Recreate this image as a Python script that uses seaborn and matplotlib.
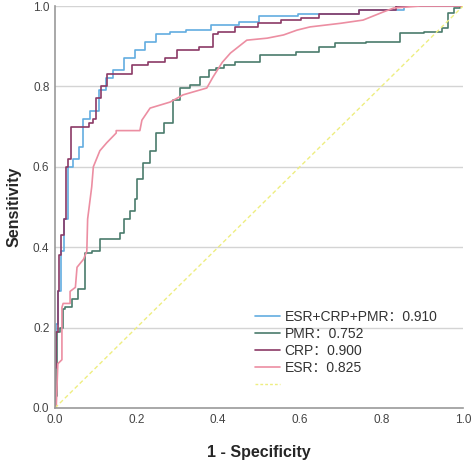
import pandas as pd
import seaborn as sns
import matplotlib.pyplot as plt
from matplotlib.lines import Line2D

# ROC curves (1 - specificity, sensitivity)
combo_fpr = [0.0, 0.0, 0.003, 0.012, 0.017, 0.025, 0.037, 0.05, 0.066, 0.07, 0.1, 0.118, 0.13, 0.155, 0.184, 0.21, 0.233, 0.262, 0.3, 0.343, 0.42, 0.48, 0.52, 0.67, 0.82, 0.89, 1.0]
combo_tpr = [0.0, 0.17, 0.21, 0.29, 0.39, 0.47, 0.6, 0.62, 0.65, 0.72, 0.74, 0.79, 0.82, 0.84, 0.87, 0.89, 0.91, 0.93, 0.935, 0.94, 0.953, 0.96, 0.975, 0.98, 0.99, 1.0, 1.0]

pmr_fpr = [0.0, 0.005, 0.007, 0.02, 0.02, 0.03, 0.054, 0.06, 0.086, 0.093, 0.127, 0.155, 0.164, 0.176, 0.19, 0.2, 0.204, 0.225, 0.24, 0.257, 0.277, 0.3, 0.314, 0.348, 0.363, 0.39, 0.4, 0.43, 0.453, 0.55, 0.63, 0.666, 0.706, 0.82, 0.87, 0.936, 0.96, 0.968, 0.985, 1.0]
pmr_tpr = [0.0, 0.03, 0.19, 0.2, 0.245, 0.25, 0.27, 0.295, 0.385, 0.39, 0.42, 0.42, 0.435, 0.47, 0.49, 0.52, 0.57, 0.61, 0.64, 0.684, 0.71, 0.766, 0.796, 0.803, 0.823, 0.84, 0.845, 0.853, 0.86, 0.878, 0.886, 0.898, 0.908, 0.91, 0.933, 0.935, 0.945, 0.983, 0.995, 1.0]

crp_fpr = [0.0, 0.0, 0.005, 0.008, 0.012, 0.017, 0.025, 0.03, 0.035, 0.044, 0.078, 0.09, 0.098, 0.103, 0.123, 0.13, 0.176, 0.2, 0.257, 0.28, 0.32, 0.385, 0.39, 0.41, 0.47, 0.527, 0.583, 0.625, 0.67, 0.82, 0.85, 1.0]
crp_tpr = [0.0, 0.1, 0.19, 0.29, 0.38, 0.43, 0.47, 0.6, 0.62, 0.70, 0.70, 0.71, 0.72, 0.77, 0.80, 0.83, 0.83, 0.853, 0.86, 0.87, 0.89, 0.898, 0.93, 0.935, 0.948, 0.957, 0.965, 0.97, 0.98, 0.99, 1.0, 1.0]

esr_fpr = [0.0, 0.003, 0.007, 0.017, 0.017, 0.02, 0.037, 0.037, 0.05, 0.054, 0.07, 0.078, 0.08, 0.09, 0.094, 0.11, 0.127, 0.15, 0.15, 0.208, 0.213, 0.233, 0.282, 0.314, 0.372, 0.387, 0.41, 0.43, 0.47, 0.52, 0.56, 0.593, 0.625, 0.7, 0.755, 0.804, 0.83, 0.895, 1.0]
esr_tpr = [0.0, 0.0, 0.11, 0.12, 0.25, 0.26, 0.26, 0.29, 0.3, 0.35, 0.37, 0.39, 0.47, 0.55, 0.6, 0.64, 0.66, 0.684, 0.69, 0.69, 0.716, 0.746, 0.761, 0.779, 0.796, 0.823, 0.86, 0.883, 0.915, 0.92, 0.928, 0.94, 0.948, 0.957, 0.965, 0.985, 0.995, 1.0, 1.0]

ref_line = [0.0, 1.0]

labels = ["ESR+CRP+PMR：0.910", "PMR：0.752", "CRP：0.900", "ESR：0.825", ""]
colors = ["#62ade0", "#4a7b6c", "#8b3a66", "#ec8ea2", "#eeee80"]

sns.set_style("white")
plt.rcParams['font.family'] = ['Liberation Sans', 'Noto Sans CJK SC', 'DejaVu Sans']

fig = plt.figure(figsize=(4.74, 4.62), dpi=100)
ax = fig.add_axes([0.116, 0.117, 0.861, 0.870])

for y in [0.2, 0.4, 0.6, 0.8, 1.0]:
    ax.axhline(y, color="#d4d4d4", lw=1.0, zorder=0)

curves = [(combo_fpr, combo_tpr, "steps-mid"),
          (pmr_fpr, pmr_tpr, "steps-mid"),
          (crp_fpr, crp_tpr, "steps-mid"),
          (esr_fpr, esr_tpr, "default")]
for (fx, ty, ds), c in zip(curves, colors):
    df = pd.DataFrame(dict(fpr=fx, tpr=ty))
    sns.lineplot(df, x="fpr", y="tpr", estimator=None, sort=False,
                 color=c, lw=1.2, drawstyle=ds, ax=ax)

ref = pd.DataFrame(dict(fpr=ref_line, tpr=ref_line))
sns.lineplot(ref, x="fpr", y="tpr", estimator=None, sort=False,
             color=colors[4], lw=1.0, linestyle=(0, (3, 2)), ax=ax)

ax.set_xlim(0, 1.0)
ax.set_ylim(0, 1.0)
ax.set_xticks([0.0, 0.2, 0.4, 0.6, 0.8, 1.0])
ax.set_yticks([0.0, 0.2, 0.4, 0.6, 0.8, 1.0])
ax.tick_params(axis="both", length=0, labelsize=8.5, labelcolor="#444444", pad=4)
for s in ["top", "right"]:
    ax.spines[s].set_visible(False)
for s in ["left", "bottom"]:
    ax.spines[s].set_color("#999999")
    ax.spines[s].set_linewidth(1.2)

ax.set_xlabel("1 - Specificity", fontsize=11.5, fontweight="bold", labelpad=14)
ax.set_ylabel("Sensitivity", fontsize=11.5, fontweight="bold", labelpad=8)

handles = [Line2D([], [], color=c, lw=1.2) for c in colors[:4]]
handles.append(Line2D([], [], color=colors[4], lw=1.0, linestyle=(0, (2, 1.5))))
ax.legend(handles, labels, loc="lower left", bbox_to_anchor=(0.46, 0.01),
          frameon=False, fontsize=10, handlelength=1.8, handletextpad=0.3,
          labelspacing=0.2, labelcolor="#333333")

plt.savefig("out.png", dpi=100)
